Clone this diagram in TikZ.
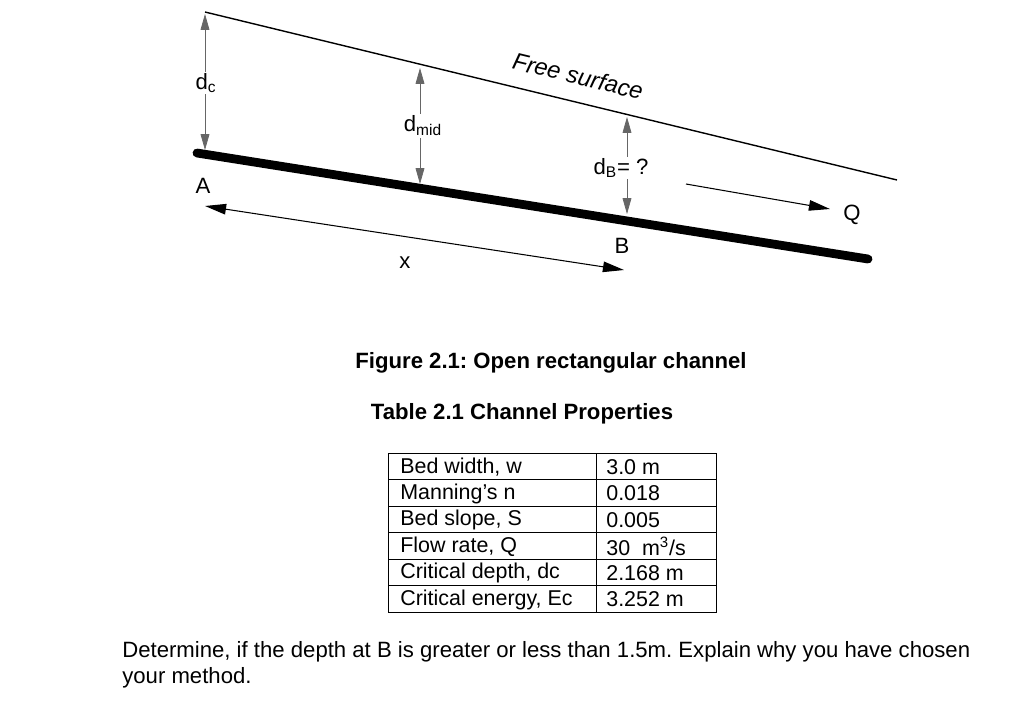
\documentclass[tikz,border=0pt]{standalone}
\usepackage{fontspec}
\setmainfont{Liberation Sans}
\usetikzlibrary{arrows.meta}
\frenchspacing
\begin{document}
\begin{tikzpicture}[x=0.02cm,y=-0.02cm,
  dim/.style={line width=0.4pt,{Triangle[length=9pt,width=5pt]}-{Triangle[length=9pt,width=5pt]}},
  onearrow/.style={line width=0.6pt,-{Triangle[length=12pt,width=6pt]}},
  lab/.style={font=\fontsize{12.6pt}{14pt}\selectfont,inner sep=1pt},
  cell/.style={font=\fontsize{12.2pt}{13pt}\selectfont,anchor=west,inner sep=0pt}]
\useasboundingbox (0,0) rectangle (1024,708);
\coordinate (fs1) at (205,12); \coordinate (fs2) at (897,180);
\draw[line width=0.8pt] (fs1) -- (fs2);
\coordinate (b1) at (197,153); \coordinate (b2) at (868,259);
\draw[line width=5pt,line cap=round] (b1) -- (b2);
\node[lab,rotate=-13.6,font=\fontsize{13.5pt}{15pt}\selectfont] (fst) at (578,76) {\itshape Free surface};
% dc
\coordinate (dc1) at (205,14); \coordinate (dc2) at (205,150);
\draw[dim,draw=black!60] (dc1) -- (dc2);
\node[lab,fill=white] (dc) at (206,83) {d\textsubscript{c}};
% dmid
\coordinate (dm1) at (420,68); \coordinate (dm2) at (420,184);
\draw[dim,draw=black!60] (dm1) -- (dm2);
\node[lab,fill=white] (dm) at (423,126) {d\textsubscript{mid}};
% dB
\coordinate (db1) at (627,117); \coordinate (db2) at (627,214);
\draw[dim,draw=black!60] (db1) -- (db2);
\node[lab,fill=white] (db) at (621,168) {d\textsubscript{B}= ?};
% Q
\coordinate (q1) at (686,184); \coordinate (q2) at (830,209);
\draw[onearrow] (q1) -- (q2);
\node[lab] (Q) at (852,215) {Q};
\node[lab] (A) at (203,186) {A};
\node[lab] (B) at (622,246) {B};
\coordinate (x1) at (205,206); \coordinate (x2) at (624,270);
\draw[line width=0.6pt,{Triangle[length=12pt,width=6pt]}-{Triangle[length=12pt,width=6pt]}] (x1) -- (x2);
\node[lab] (X) at (405,263) {x};
\node[lab,font=\bfseries\fontsize{12.6pt}{14pt}\selectfont] (cap) at (551,363) {Figure 2.1: Open rectangular channel};
\node[lab,font=\bfseries\fontsize{12.6pt}{14pt}\selectfont] (tcap) at (522,414) {Table 2.1 Channel Properties};
% table
\draw[line width=0.5pt] (388,453) rectangle (716,612);
\draw[line width=0.5pt] (596,453) -- (596,612);
\foreach \k in {1,...,5}{\draw[line width=0.4pt] (388,{453+26.5*\k}) -- (716,{453+26.5*\k});}
\foreach \i/\a/\b in {0/{Bed width, w}/{3.0 m},1/{Manning’s n}/{0.018},2/{Bed slope, S}/{0.005},3/{Flow rate, Q}/{30\ \ m\textsuperscript{3}/s},4/{Critical depth, dc}/{2.168 m},5/{Critical energy, Ec}/{3.252 m}}{
  \node[cell] (l\i) at (400,{467+26.5*\i}) {\a};
  \node[cell] (r\i) at (606,{467+26.5*\i}) {\b};
}
\node[cell,font=\fontsize{12.6pt}{14pt}\selectfont] (q) at (122,652) {Determine, if the depth at B is greater or less than 1.5m. Explain why you have chosen};
\node[cell,font=\fontsize{12.6pt}{14pt}\selectfont] (q2t) at (122,678) {your method.};
\end{tikzpicture}
\end{document}
